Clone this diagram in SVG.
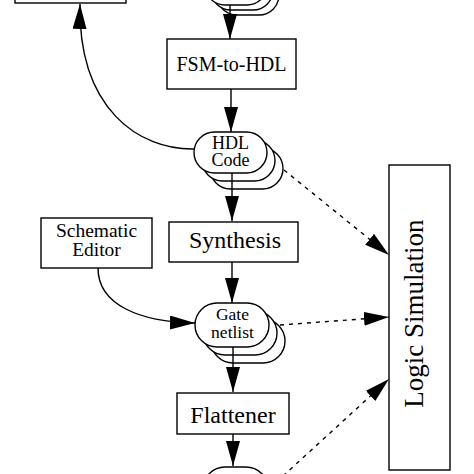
<svg xmlns="http://www.w3.org/2000/svg" width="474" height="474" viewBox="0 0 474 474">
<defs>
<style>
.box{fill:#fff;stroke:#000;stroke-width:1.4}
.t{font-family:"Liberation Serif","Times New Roman",serif;fill:#000;text-anchor:middle}
.e{fill:none;stroke:#000;stroke-width:1.4}
.d{fill:none;stroke:#000;stroke-width:1.4;stroke-dasharray:4 5}
</style>
<marker id="ah" markerWidth="25" markerHeight="14" refX="25" refY="7" orient="auto" markerUnits="userSpaceOnUse">
<path d="M0,0 L25,7 L0,14 z" fill="#000"/>
</marker>
</defs>
<rect width="474" height="474" fill="#fff"/>
<g id="topleft">
<rect class="box" x="15" y="-40" width="111" height="43"/>
</g>
<g id="topnode">
<rect class="box" x="217" y="-26" width="62" height="41" rx="20"/>
<rect class="box" x="211" y="-31" width="62" height="41" rx="20"/>
<rect class="box" x="205" y="-36" width="62" height="41" rx="20"/>
</g>
<g id="fsm2hdl">
<rect class="box" x="167" y="39" width="129" height="50"/>
<text class="t" x="231.5" y="71" font-size="20">FSM-to-HDL</text>
</g>
<g id="hdlcode">
<rect class="box" x="210" y="148" width="73" height="41" rx="20.5"/>
<rect class="box" x="202" y="140" width="73" height="41" rx="20.5"/>
<rect class="box" x="194" y="132" width="73" height="41" rx="20.5"/>
<text class="t" x="230.5" y="149" font-size="18">HDL</text>
<text class="t" x="230.5" y="165.5" font-size="18">Code</text>
</g>
<g id="schematic">
<rect class="box" x="41" y="218" width="111" height="50"/>
<text class="t" x="96.5" y="237" font-size="19.5">Schematic</text>
<text class="t" x="96.5" y="256" font-size="19.5">Editor</text>
</g>
<g id="synthesis">
<rect class="box" x="169" y="222" width="129" height="40"/>
<text class="t" x="235" y="248" font-size="24">Synthesis</text>
</g>
<g id="gatenetlist">
<rect class="box" x="211" y="319" width="74" height="44" rx="22"/>
<rect class="box" x="203" y="311" width="74" height="44" rx="22"/>
<rect class="box" x="195" y="303" width="74" height="44" rx="22"/>
<text class="t" x="232.5" y="320" font-size="17.5">Gate</text>
<text class="t" x="232.5" y="338" font-size="17.5">netlist</text>
</g>
<g id="flattener">
<rect class="box" x="177" y="393" width="112" height="41"/>
<text class="t" x="233" y="423" font-size="24">Flattener</text>
</g>
<g id="bottomnode">
<rect class="box" x="203" y="467" width="65" height="44" rx="22"/>
</g>
<g id="logicsim">
<rect class="box" x="389" y="165" width="61" height="305"/>
<text class="t" x="0" y="0" font-size="27" transform="translate(423,313.5) rotate(-90)">Logic Simulation</text>
</g>
<g id="connectors">
<path class="e" d="M230,5 L230,39" marker-end="url(#ah)"/>
<path class="e" d="M231,89 L231,132" marker-end="url(#ah)"/>
<path class="e" d="M194,149 C140,150 78,110 80,4" marker-end="url(#ah)"/>
<path class="e" d="M232,173 L232,221" marker-end="url(#ah)"/>
<path class="e" d="M232,262 L232,303" marker-end="url(#ah)"/>
<path class="e" d="M98,268 C98,305 140,322 195,323" marker-end="url(#ah)"/>
<path class="e" d="M233,347 L233,392" marker-end="url(#ah)"/>
<path class="e" d="M233,434 L233,466" marker-end="url(#ah)"/>
<path class="d" d="M284,170 L389,255" marker-end="url(#ah)"/>
<path class="d" d="M280,325 L389,317" marker-end="url(#ah)"/>
<path class="d" d="M283,476 L389,379" marker-end="url(#ah)"/>
</g>
</svg>
